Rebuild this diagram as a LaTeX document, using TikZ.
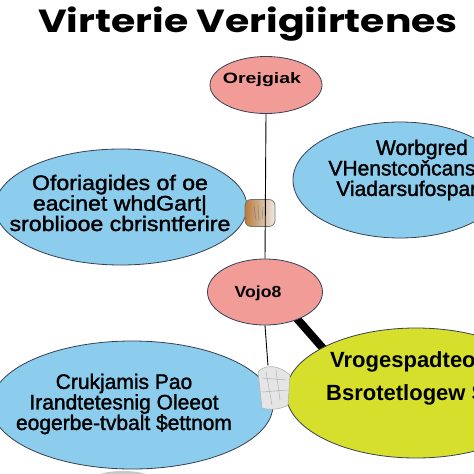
\documentclass[tikz,border=0pt]{standalone}
\usepackage{fontspec}
\setmainfont{Liberation Sans}
\newfontfamily\titlefont{Poppins}
\newfontfamily\medfont{Liberation Sans}[FakeBold=1.5]
\usetikzlibrary{shapes.geometric}
\definecolor{bluefill}{RGB}{140,204,236}
\definecolor{pinkfill}{RGB}{242,156,152}
\definecolor{yellowfill}{RGB}{214,224,44}
\definecolor{outline}{RGB}{55,65,85}
\definecolor{ornbrown}{RGB}{184,121,58}
\definecolor{ornlight}{RGB}{238,234,226}
\begin{document}
\begin{tikzpicture}[x=1pt,y=-1pt,
  bubble/.style={ellipse, draw=outline, line width=0.8pt, inner sep=0pt},
  bluebub/.style={bubble, fill=bluefill},
  pinkbub/.style={bubble, fill=pinkfill},
  yelbub/.style={bubble, fill=yellowfill},
  btext/.style={font=\medfont\fontsize{21}{20.5}\selectfont, align=center, text=black, inner sep=0pt},
  ytext/.style={font=\bfseries\fontsize{22}{33}\selectfont, align=left, text=black, inner sep=0pt},
  stext/.style={font=\bfseries\fontsize{15}{15}\selectfont, text=black, inner sep=0pt},
  link/.style={draw=black, line width=0.9pt},
  thicklink/.style={draw=black, line width=8pt}
]
\useasboundingbox (0,0) rectangle (474,474);
\clip (0,0) rectangle (474,474);
\fill[white] (0,0) rectangle (474,474);

% title
\node[font=\titlefont\bfseries\fontsize{32}{32}\selectfont, inner sep=0pt, xscale=1.23] (title) at (248,24) {Virterie Verigiirtenes};

% thick connector (behind bubbles)
\coordinate (t1) at (285,305);
\coordinate (t2) at (335,362);
\draw[thicklink] (t1) -- (t2);

% bubbles
\node[pinkbub, minimum width=112pt, minimum height=57pt] (top) at (266,85) {};
\node[stext, xscale=1.3] (toptext) at (262,80) {Orejgiak};

\node[bluebub, minimum width=252pt, minimum height=116pt] (left) at (121,207) {};
\node[btext, xscale=1.1] (lefttext) at (120,203) {Oforiagides of oe\\eacinet whdGart|\\srobliooe cbrisntferire};

\node[bluebub, minimum width=214pt, minimum height=116pt] (right) at (400,180) {};
\node[btext] (righttext) at (402,170) {\hspace*{40pt}Worbgred\\VHenstco\v{n}cans\\\hspace*{20pt}Viadarsufospam};

\node[pinkbub, minimum width=115pt, minimum height=66pt] (mid) at (265,292) {};
\node[stext, font=\bfseries\fontsize{16}{16}\selectfont, xscale=1.1] (midtext) at (258,293) {Vojo8};

\node[bluebub, minimum width=282pt, minimum height=128pt] (botleft) at (132,405) {};
\node[btext] (botlefttext) at (124,404) {Crukjamis Pao\\Irandtetesnig Oleeot\\eogerbe-tvbalt \$ettnom};

\node[yelbub, minimum width=260pt, minimum height=130pt] (yel) at (416,393) {};
\node[ytext, anchor=west] (yeltext) at (326,378) {\hspace*{4pt}Vrogespadteo\\Bsrotetlogew Sk};

% ornament 1
\node[draw=black!55, line width=0.7pt, rounded corners=6pt, minimum width=30pt, minimum height=27pt,
      left color=ornbrown, right color=ornlight, inner sep=0pt] (orn1) at (260,213) {};
\draw[black!50, line width=0.5pt] (254,206) -- (256,220) (258,205) -- (259,221) (263,207) -- (262,219);

% ornament 2
\path[fill=black!10, draw=black!30, line width=0.6pt] (258,372) .. controls (266,363) and (280,366) .. (290,375)
   -- (288,405) .. controls (280,410) and (268,410) .. (262,408) -- cycle;
\draw[black!30, line width=0.5pt] (262,378) -- (286,380) (266,372) -- (272,405) (276,370) -- (280,400) (262,392) -- (288,390);
\node[inner sep=0pt, minimum size=1pt] (orn2) at (268,366) {};

% vertical connectors
\draw[link] (top.south) -- (mid.north);
\draw[link] (mid.south) -- (orn2);

% bottom shadow
\fill[black!35, opacity=0.6] (123,478) ellipse (28pt and 7pt);
\end{tikzpicture}
\end{document}
